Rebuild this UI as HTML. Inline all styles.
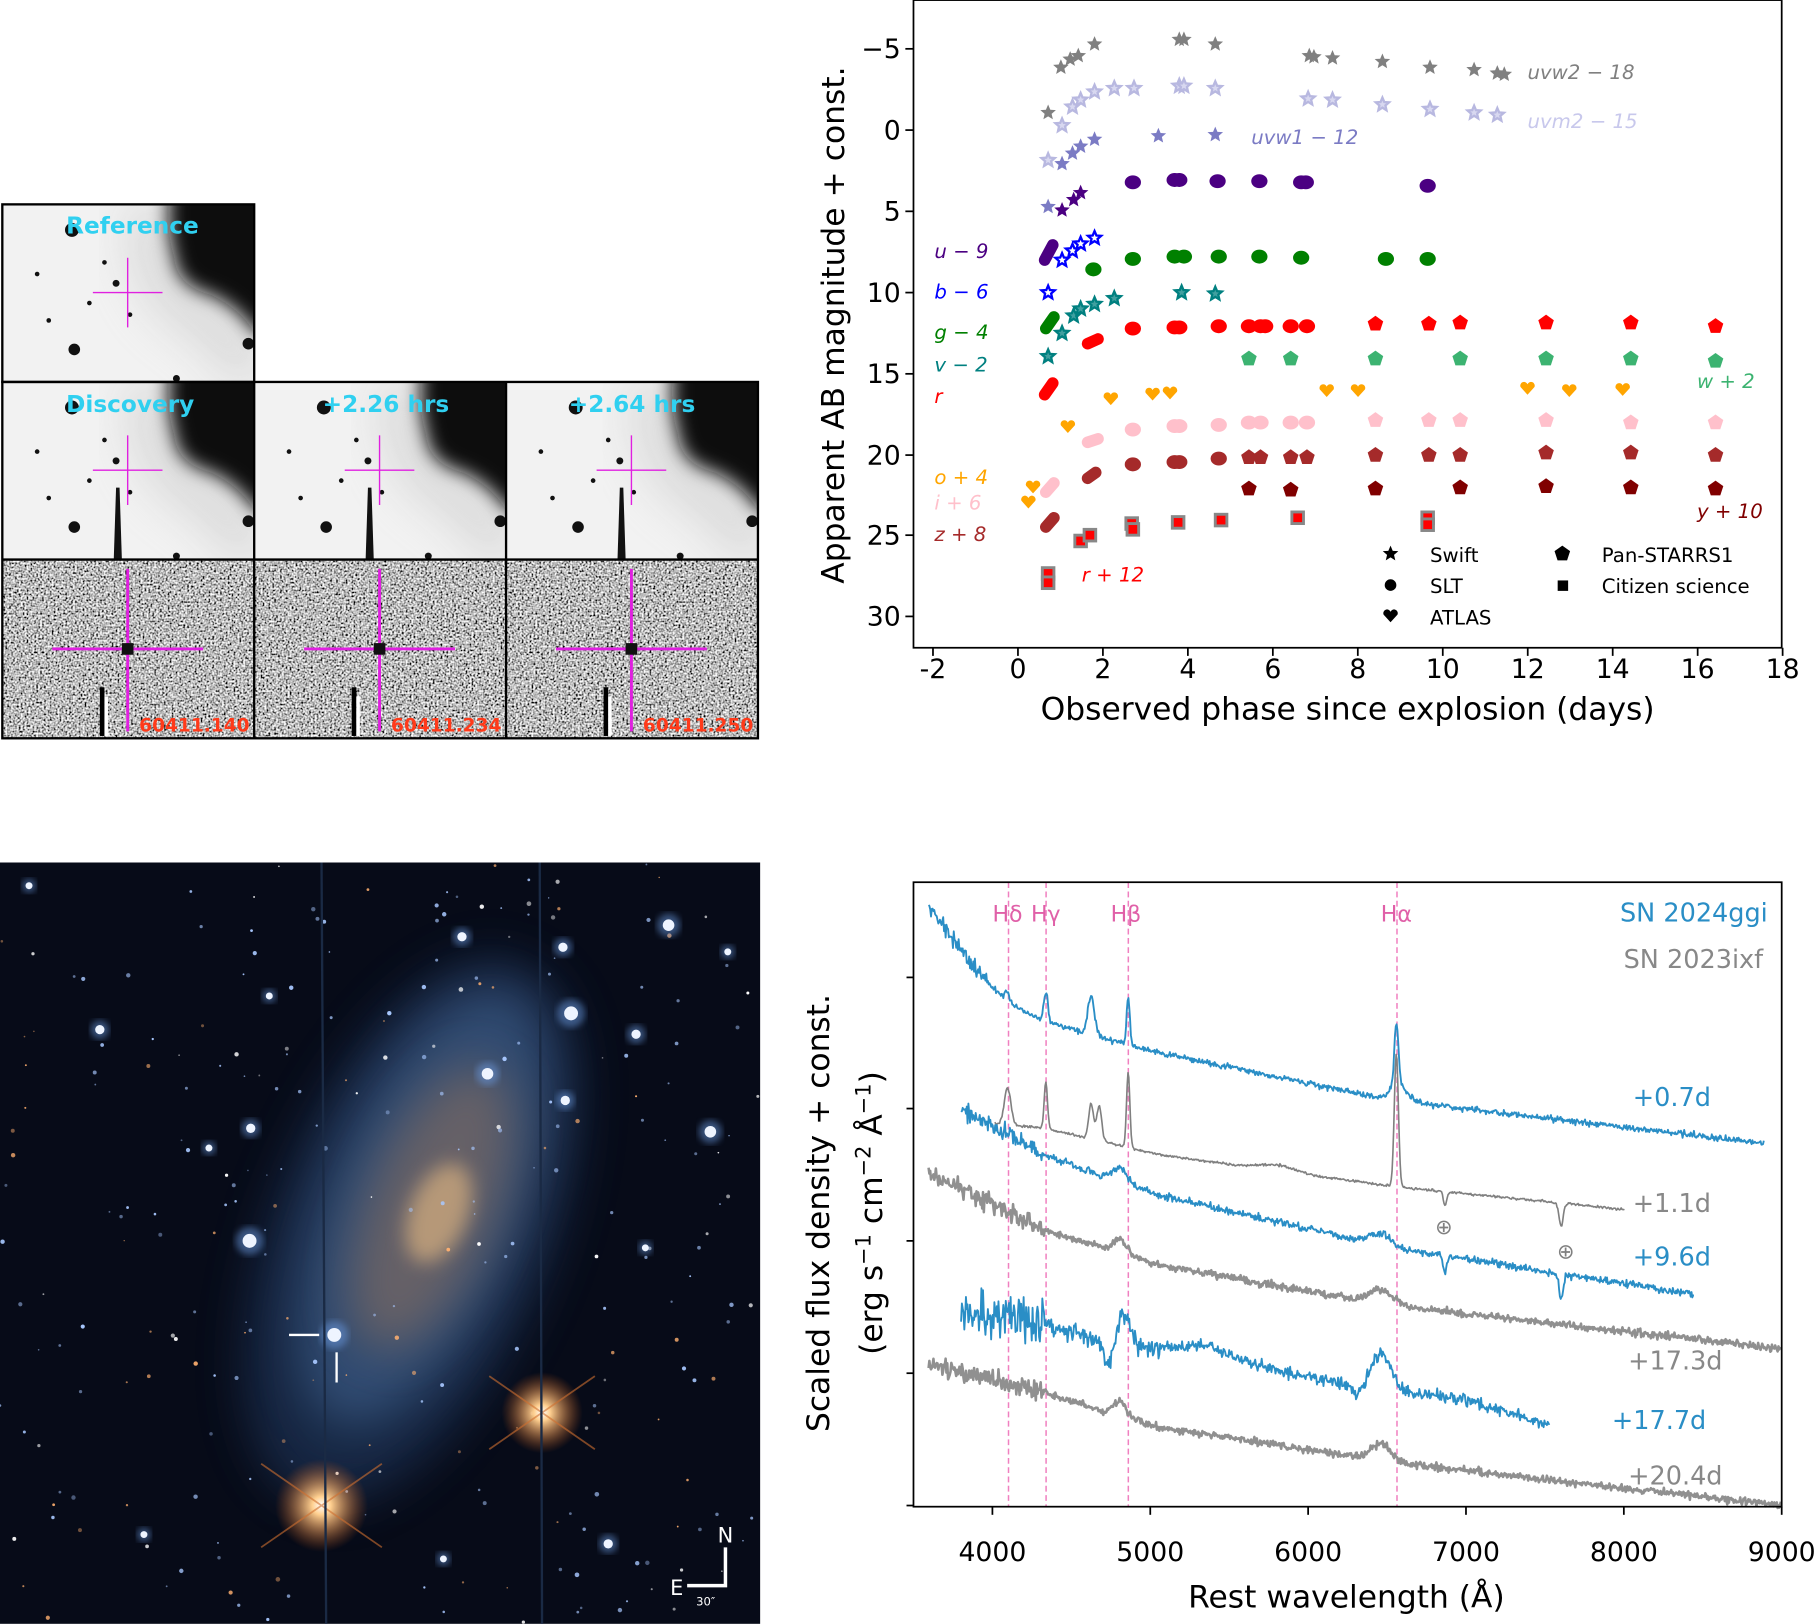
<!DOCTYPE html>
<html><head><meta charset="utf-8"><style>
html,body{margin:0;padding:0;background:#fff;}
svg{display:block;}
text{font-family:"DejaVu Sans","Liberation Sans",sans-serif;}
</style></head><body>
<svg id="s" width="1820" height="1624" viewBox="0 0 1568 1399" xmlns="http://www.w3.org/2000/svg">
<defs>
<filter id="noise2" x="0" y="0" width="100%" height="100%">
<feTurbulence type="fractalNoise" baseFrequency="0.6" numOctaves="1" seed="7"/>
<feColorMatrix type="saturate" values="0"/>
<feComponentTransfer><feFuncR type="linear" slope="3.2" intercept="-1.1"/><feFuncG type="linear" slope="3.2" intercept="-1.1"/><feFuncB type="linear" slope="3.2" intercept="-1.1"/><feFuncA type="linear" slope="0" intercept="1"/></feComponentTransfer>
</filter>
<filter id="blur8" x="-50%" y="-50%" width="200%" height="200%"><feGaussianBlur stdDeviation="8"/></filter>
<filter id="blur20" x="-50%" y="-50%" width="200%" height="200%"><feGaussianBlur stdDeviation="20"/></filter>
<filter id="blur3"><feGaussianBlur stdDeviation="3"/></filter>
<radialGradient id="orangeStar" cx="50%" cy="50%" r="50%">
<stop offset="0" stop-color="#fff"/><stop offset="0.2" stop-color="#ffd090"/><stop offset="1" stop-color="#c05010" stop-opacity="0"/>
</radialGradient>
<clipPath id="galclip"><rect x="0" y="743" width="655" height="656"/></clipPath>
<clipPath id="c0"><rect x="2" y="176" width="217" height="153"/></clipPath>
<clipPath id="c1"><rect x="2" y="329" width="217" height="153"/></clipPath>
<clipPath id="c2"><rect x="219" y="329" width="217" height="153"/></clipPath>
<clipPath id="c3"><rect x="436" y="329" width="217" height="153"/></clipPath>
</defs>
<g id="root"></g>
</svg>
<script>
(function(){
var g=document.getElementById('root');var out=[];
function A(s){out.push(s);}
var seed=12345;function rnd(){seed=(seed*16807)%2147483647;return seed/2147483647;}
function gauss(){return (rnd()+rnd()+rnd()+rnd()-2)/1.15;}

function blob(x,y,cid){
 A('<g clip-path="url(#'+cid+')">');
 A('<rect x="'+x+'" y="'+y+'" width="217" height="153" fill="#f2f2f2"/>');
 A('<path d="M'+(x+130)+' '+y+' Q'+(x+120)+' '+(y+60)+' '+(x+160)+' '+(y+90)+' Q'+(x+195)+' '+(y+110)+' '+(x+217)+' '+(y+150)+'" stroke="#bbb" stroke-width="35" fill="none" opacity="0.5" filter="url(#blur20)"/>');
 A('<path d="M'+(x+145)+' '+(y-20)+' L'+(x+240)+' '+(y-20)+' L'+(x+240)+' '+(y+115)+' L'+(x+217)+' '+(y+110)+' Q'+(x+205)+' '+(y+90)+' '+(x+180)+' '+(y+78)+' Q'+(x+150)+' '+(y+70)+' '+(x+148)+' '+(y+45)+' Q'+(x+140)+' '+(y+20)+' '+(x+145)+' '+(y-20)+'Z" fill="#111" filter="url(#blur8)"/>');
 var dots=[[60,22,6],[62,125,5],[98,68,3],[75,85,2],[30,60,2],[150,150,3],[212,120,5],[40,100,2],[88,50,2],[110,95,2]];
 dots.forEach(function(d){A('<circle cx="'+(x+d[0])+'" cy="'+(y+d[1])+'" r="'+d[2]+'" fill="#111"/>');});
 A('</g>');
}
blob(2,176,'c0');
A('<line x1="110" y1="222" x2="110" y2="282" stroke="#e020e0" stroke-width="1.2"/><line x1="80" y1="252" x2="140" y2="252" stroke="#e020e0" stroke-width="1.2"/>');
A('<text x="57" y="201" font-size="20" font-weight="bold" fill="#30d0f0">Reference</text>');
var px=[2,219,436];var lab2=['Discovery','+2.26 hrs','+2.64 hrs'];var lx=[57,278,490];
var mjd=['60411.140','60411.234','60411.250'];
for(var i=0;i<3;i++){
 blob(px[i],329,'c'+(i+1));
 var cx=px[i]+108;
 A('<line x1="'+cx+'" y1="375" x2="'+cx+'" y2="435" stroke="#e020e0" stroke-width="1.2"/><line x1="'+(cx-30)+'" y1="405" x2="'+(cx+30)+'" y2="405" stroke="#e020e0" stroke-width="1.2"/>');
 A('<path d="M'+(px[i]+98)+' 420 L'+(px[i]+101)+' 420 L'+(px[i]+103)+' 482 L'+(px[i]+96)+' 482Z" fill="#111"/>');
 A('<text x="'+lx[i]+'" y="355" font-size="20" font-weight="bold" fill="#30d0f0">'+lab2[i]+'</text>');
 A('<rect x="'+px[i]+'" y="482" width="217" height="154" fill="#888" filter="url(#noise2)"/>');
 A('<line x1="'+cx+'" y1="490" x2="'+cx+'" y2="630" stroke="#e020e0" stroke-width="2.5"/><line x1="'+(cx-65)+'" y1="559" x2="'+(cx+65)+'" y2="559" stroke="#e020e0" stroke-width="2.5"/>');
 A('<rect x="'+(cx-5)+'" y="554" width="10" height="10" fill="#111"/>');
 A('<rect x="'+(px[i]+84)+'" y="592" width="4" height="42" fill="#000"/><rect x="'+(px[i]+88)+'" y="600" width="3" height="34" fill="#fff"/>');
 A('<text x="'+(px[i]+213)+'" y="630" text-anchor="end" font-size="16" font-weight="bold" fill="#ff3a1a">'+mjd[i]+'</text>');
}
A('<g fill="none" stroke="#000" stroke-width="2"><rect x="2" y="176" width="217" height="153"/><rect x="2" y="329" width="651" height="307"/><line x1="219" y1="329" x2="219" y2="636"/><line x1="436" y1="329" x2="436" y2="636"/><line x1="2" y1="482" x2="653" y2="482"/></g>');

function star(x,y,r,fill,stroke){var p=[];for(var k=0;k<10;k++){var a=-Math.PI/2+k*Math.PI/5;var rr=k%2?r*0.45:r;p.push((x+rr*Math.cos(a)).toFixed(1)+','+(y+rr*Math.sin(a)).toFixed(1));}
 return '<polygon points="'+p.join(' ')+'" fill="'+fill+'"'+(stroke?' stroke="'+stroke+'" stroke-width="2"':'')+'/>';}
function pent(x,y,r,fill){var p=[];for(var k=0;k<5;k++){var a=-Math.PI/2+k*2*Math.PI/5;p.push((x+r*Math.cos(a)).toFixed(1)+','+(y+r*Math.sin(a)).toFixed(1));}return '<polygon points="'+p.join(' ')+'" fill="'+fill+'"/>';}
function heart(x,y,r,fill){return '<path d="M'+x+' '+(y+r)+' L'+(x-r)+' '+(y-r*0.1)+' A'+(r*0.5)+' '+(r*0.5)+' 0 0 1 '+x+' '+(y-r*0.5)+' A'+(r*0.5)+' '+(r*0.5)+' 0 0 1 '+(x+r)+' '+(y-r*0.1)+'Z" fill="'+fill+'"/>';}
function dot(x,y,c){return '<ellipse cx="'+x+'" cy="'+y+'" rx="7" ry="6" fill="'+c+'"/>';}
function streak(x1,y1,x2,y2,c){return '<line x1="'+x1+'" y1="'+y1+'" x2="'+x2+'" y2="'+y2+'" stroke="'+c+'" stroke-width="10" stroke-linecap="round"/>';}
function sq(x,y){return '<rect x="'+(x-5)+'" y="'+(y-5)+'" width="10" height="10" fill="#f00" stroke="#888" stroke-width="2.5"/>';}

var uvw2=[[903,97],[914,58],[922,51],[929,48],[943,38],[1016,34],[1020,34],[1047,38],[1128,48],[1132,49],[1148,50],[1191,53],[1232,58],[1270,60],[1290,63],[1296,64]];
uvw2.forEach(function(p){A(star(p[0],p[1],7,'#808080'));});
var uvm2=[[903,138],[915,108],[924,92],[931,86],[943,79],[960,76],[977,76],[1016,74],[1020,74],[1047,76],[1127,85],[1148,86],[1191,90],[1232,94],[1270,97],[1290,99]];
uvm2.forEach(function(p){A(star(p[0],p[1],6,'#d8d8f0','#b8b8e0'));});
var uvw1=[[903,178],[915,141],[924,132],[931,126],[943,120],[998,117],[1047,116]];
uvw1.forEach(function(p){A(star(p[0],p[1],7,'#7b7bc4'));});
[[915,181],[925,172],[931,166]].forEach(function(p){A(star(p[0],p[1],7,'#4b0082'));});
A(streak(900,224,907,211,'#4b0082'));
[[976,157],[1012,155],[1016,155],[1049,156],[1085,156],[1121,157],[1125,157],[1230,160]].forEach(function(p){A(dot(p[0],p[1],'#4b0082'));});
[[903,252],[915,224],[924,216],[931,210],[943,205]].forEach(function(p){A(star(p[0],p[1],6,'#fff','#0000ff'));});
A(streak(901,283,908,273,'#008000'));
[[942,232],[976,223],[1012,221],[1020,221],[1050,221],[1085,221],[1121,222],[1194,223],[1230,223]].forEach(function(p){A(dot(p[0],p[1],'#008000'));});
[[903,307],[915,287],[925,272],[931,266],[943,262],[960,257],[1018,252],[1047,253]].forEach(function(p){A(star(p[0],p[1],6,'#40a0a0','#008080'));});
A(streak(900,340,907,330,'#ff0000'));A(streak(937,296,946,292,'#ff0000'));
[[976,283],[1012,282],[1016,282],[1050,281],[1076,281],[1086,281],[1090,281],[1112,281],[1126,281]].forEach(function(p){A(dot(p[0],p[1],'#ff0000'));});
[[1185,279],[1231,279],[1258,278],[1332,278],[1405,278],[1478,281]].forEach(function(p){A(pent(p[0],p[1],7,'#ff0000'));});
[[1076,309],[1112,309],[1185,309],[1258,309],[1332,309],[1405,309],[1478,311]].forEach(function(p){A(pent(p[0],p[1],7,'#3cb371'));});
[[886,432],[890,419],[920,367],[957,343],[993,339],[1008,338],[1143,336],[1170,336],[1316,334],[1352,336],[1398,335]].forEach(function(p){A(heart(p[0],p[1],6,'#ffa500'));});
A(streak(901,424,908,416,'#ffc0cb'));A(streak(937,381,946,378,'#ffc0cb'));
[[976,370],[1012,367],[1016,367],[1050,366],[1076,364],[1086,364],[1112,364],[1126,364],[1185,362],[1231,362],[1258,362],[1332,362],[1405,364],[1478,364]].forEach(function(p){A(p[0]>1150?pent(p[0],p[1],7,'#ffc0cb'):dot(p[0],p[1],'#ffc0cb'));});
A(streak(901,454,908,446,'#a52a2a'));A(streak(937,412,944,407,'#a52a2a'));
[[976,400],[1012,398],[1016,398],[1050,395],[1076,394],[1086,394],[1112,394],[1126,394],[1185,392],[1231,392],[1258,392],[1332,390],[1405,390],[1478,392]].forEach(function(p){A(p[0]>1070?pent(p[0],p[1],7,'#a52a2a'):dot(p[0],p[1],'#a52a2a'));});
[[1076,421],[1112,422],[1185,421],[1258,420],[1332,419],[1405,420],[1478,421]].forEach(function(p){A(pent(p[0],p[1],7,'#800000'));});
[[903,494],[903,502],[931,466],[939,461],[975,451],[976,456],[1015,450],[1052,448],[1118,446],[1230,446],[1230,452]].forEach(function(p){A(sq(p[0],p[1]));});

function lab(x,y,t,c,anchor){A('<text x="'+x+'" y="'+y+'" font-size="17" font-style="italic" fill="'+c+'"'+(anchor?' text-anchor="'+anchor+'"':'')+'>'+t+'</text>');}
lab(805,222,'u − 9','#4b0082');lab(805,257,'b − 6','#0000ff');lab(805,292,'g − 4','#008000');lab(805,320,'v − 2','#008080');
lab(805,347,'r','#ff0000');lab(805,417,'o + 4','#ffa500');lab(805,439,'i + 6','#ffc0cb');lab(805,466,'z + 8','#a52a2a');
lab(932,501,'r + 12','#ff0000');lab(1078,124,'uvw1 − 12','#7b7bc4');lab(1316,68,'uvw2 − 18','#808080');lab(1316,110,'uvm2 − 15','#c8c8ec');
lab(1462,334,'w + 2','#3cb371');lab(1462,446,'y + 10','#800000');
A(star(1198,477,7,'#000'));A('<circle cx="1198" cy="504" r="5" fill="#000"/>');A(heart(1198,530,6,'#000'));A(pent(1346,477,7,'#000'));A('<rect x="1342" y="500" width="9" height="9" fill="#000"/>');
A('<g font-size="17" fill="#000"><text x="1232" y="484">Swift</text><text x="1232" y="511">SLT</text><text x="1232" y="538">ATLAS</text><text x="1380" y="484">Pan-STARRS1</text><text x="1380" y="511">Citizen science</text></g>');
A('<rect x="787" y="0" width="748" height="558" fill="none" stroke="#000" stroke-width="1.5"/>');
var yt=[[-5,42],[0,112],[5,182],[10,252],[15,322],[20,392],[25,461],[30,531]];
yt.forEach(function(t){A('<line x1="780" y1="'+t[1]+'" x2="787" y2="'+t[1]+'" stroke="#000" stroke-width="1.5"/><text x="776" y="'+(t[1]+8)+'" text-anchor="end" font-size="23">'+(t[0]<0?'−5':t[0])+'</text>');});
for(var d=-2;d<=18;d+=2){var xx=877+d*36.6;A('<line x1="'+xx+'" y1="558" x2="'+xx+'" y2="565" stroke="#000" stroke-width="1.5"/><text x="'+xx+'" y="584" text-anchor="middle" font-size="23">'+(d<0?'-2':d)+'</text>');}
A('<text x="1161" y="620" text-anchor="middle" font-size="27">Observed phase since explosion (days)</text>');
A('<text transform="translate(727,280) rotate(-90)" text-anchor="middle" font-size="27">Apparent AB magnitude + const.</text>');

A('<g clip-path="url(#galclip)"><rect x="0" y="743" width="655" height="656" fill="#070b18"/>');
A('<ellipse cx="355" cy="1060" rx="120" ry="250" transform="rotate(22 355 1060)" fill="#2c4a78" opacity="0.45" filter="url(#blur20)"/>');
A('<ellipse cx="365" cy="1040" rx="85" ry="200" transform="rotate(22 365 1040)" fill="#4c70a0" opacity="0.5" filter="url(#blur20)"/>');
A('<ellipse cx="372" cy="1040" rx="55" ry="130" transform="rotate(22 372 1040)" fill="#8a7060" opacity="0.6" filter="url(#blur20)"/>');
A('<ellipse cx="378" cy="1045" rx="25" ry="45" transform="rotate(22 378 1045)" fill="#d8b080" opacity="0.7" filter="url(#blur8)"/>');
for(var k=0;k<260;k++){var sx=rnd()*655,sy=743+rnd()*656,rr=0.6+rnd()*1.4;var c=rnd()<0.6?'#a8c8ff':(rnd()<0.5?'#ffb070':'#ffffff');A('<circle cx="'+sx.toFixed(1)+'" cy="'+sy.toFixed(1)+'" r="'+rr.toFixed(1)+'" fill="'+c+'" opacity="'+(0.4+rnd()*0.6).toFixed(2)+'"/>');}
var bs=[[492,873,6],[576,797,5],[485,816,4],[215,1069,6],[288,1150,6],[86,887,4],[612,975,5],[420,925,5],[487,948,4],[627,820,3],[216,972,4],[548,891,4],[556,1075,3],[180,989,3],[25,763,3],[398,807,4],[524,1330,4],[382,1343,3],[124,1322,3],[232,858,3]];
bs.forEach(function(b){A('<circle cx="'+b[0]+'" cy="'+b[1]+'" r="'+(b[2]*2)+'" fill="#6a9ae0" opacity="0.5" filter="url(#blur3)"/><circle cx="'+b[0]+'" cy="'+b[1]+'" r="'+b[2]+'" fill="#eef4ff"/>');});
[[467,1217,35],[277,1297,40]].forEach(function(b){A('<circle cx="'+b[0]+'" cy="'+b[1]+'" r="'+b[2]+'" fill="url(#orangeStar)"/><g stroke="#d07030" stroke-width="1.5" opacity="0.6"><line x1="'+(b[0]-b[2]*1.3)+'" y1="'+(b[1]-b[2]*0.9)+'" x2="'+(b[0]+b[2]*1.3)+'" y2="'+(b[1]+b[2]*0.9)+'"/><line x1="'+(b[0]-b[2]*1.3)+'" y1="'+(b[1]+b[2]*0.9)+'" x2="'+(b[0]+b[2]*1.3)+'" y2="'+(b[1]-b[2]*0.9)+'"/></g>');});
A('<line x1="277" y1="743" x2="281" y2="1399" stroke="#1a2a44" stroke-width="2"/><line x1="465" y1="743" x2="467" y2="1399" stroke="#1a2a44" stroke-width="2"/>');
A('<line x1="249" y1="1150" x2="275" y2="1150" stroke="#fff" stroke-width="2"/><line x1="290" y1="1165" x2="290" y2="1191" stroke="#fff" stroke-width="2"/>');
A('<path d="M592 1366 L625 1366 L625 1333" stroke="#fff" stroke-width="3" fill="none"/><text x="625" y="1329" text-anchor="middle" font-size="18" fill="#fff">N</text><text x="583" y="1374" text-anchor="middle" font-size="18" fill="#fff">E</text><text x="608" y="1383" text-anchor="middle" font-size="10" fill="#fff" font-family="Liberation Serif">30″</text>');
A('</g>');

function X(w){return 787+(w-3500)*0.136;}
[4102,4340,4861,6563].forEach(function(w){A('<line x1="'+X(w)+'" y1="760" x2="'+X(w)+'" y2="1298" stroke="#f080c0" stroke-width="1.3" stroke-dasharray="5,3"/>');});
A('<g font-size="19" fill="#e060a8" text-anchor="middle"><text x="868" y="794">Hδ</text><text x="901" y="794">Hγ</text><text x="970" y="794">Hβ</text><text x="1203" y="794">Hα</text></g>');
function interp(pts,x){for(var i=0;i<pts.length-1;i++){if(x<=pts[i+1][0]){var t=(x-pts[i][0])/(pts[i+1][0]-pts[i][0]);return pts[i][1]+t*(pts[i+1][1]-pts[i][1]);}}return pts[pts.length-1][1];}
function spec(x0,x1,cont,feats,noise,col,sw){var p=[];for(var x=x0;x<=x1;x+=0.7){var y=interp(cont,x);feats.forEach(function(f){y-=f[1]*Math.exp(-Math.pow((x-f[0])/f[2],2));});var n=typeof noise==='function'?noise(x):noise;y+=gauss()*n;p.push(x.toFixed(1)+','+y.toFixed(1));}
 A('<polyline points="'+p.join(' ')+'" fill="none" stroke="'+col+'" stroke-width="'+(sw||1.6)+'" stroke-linejoin="round"/>');}
var B='#2a8ec6',G='#909090';
spec(800,1520,[[800,780],[815,800],[840,835],[870,865],[900,880],[990,905],[1200,948],[1520,985]],[[868,10,3],[901,25,2.5],[940,33,4],[972,40,2],[1203,52,2.5],[1205,15,10]],function(x){return x<850?7:2.5;},B);
spec(857,1400,[[857,968],[900,972],[1000,995],[1200,1022],[1400,1042]],[[868,32,4],[901,40,2],[940,30,3],[947,30,3],[972,65,2],[1203,115,2.5],[1245,-12,2],[1345,-20,2.5],[1100,5,20]],1,'#808080',1.4);
spec(828,1460,[[828,955],[900,995],[1000,1030],[1200,1075],[1460,1115]],[[965,12,8],[1190,10,12],[1245,-15,2],[1345,-22,2.5]],function(x){return x<900?7:3;},B);
spec(800,1535,[[800,1010],[900,1060],[1000,1090],[1200,1125],[1535,1162]],[[965,12,8],[1190,12,15]],function(x){return x<900?8:3;},G,2.2);
spec(828,1335,[[828,1130],[900,1140],[960,1160],[1000,1160],[1100,1180],[1170,1195],[1260,1205],[1335,1228]],[[968,28,8],[955,-18,5],[1190,30,12],[1170,-8,5],[1040,8,25]],function(x){return x<900?18:(x<1000?8:5);},B);
spec(800,1535,[[800,1175],[900,1200],[1000,1230],[1200,1260],[1535,1297]],[[965,12,8],[1190,15,12]],function(x){return x<900?8:3;},G,2.2);
A('<text x="1244" y="1063" font-size="18" fill="#808080" text-anchor="middle">⊕</text><text x="1349" y="1084" font-size="18" fill="#808080" text-anchor="middle">⊕</text>');
A('<g font-size="22"><text x="1523" y="794" text-anchor="end" fill="'+B+'">SN 2024ggi</text><text x="1519" y="834" text-anchor="end" fill="#888">SN 2023ixf</text>');
A('<text x="1474" y="953" text-anchor="end" fill="'+B+'">+0.7d</text><text x="1474" y="1044" text-anchor="end" fill="#888">+1.1d</text><text x="1474" y="1090" text-anchor="end" fill="'+B+'">+9.6d</text><text x="1484" y="1180" text-anchor="end" fill="#888">+17.3d</text><text x="1470" y="1231" text-anchor="end" fill="'+B+'">+17.7d</text><text x="1484" y="1279" text-anchor="end" fill="#888">+20.4d</text></g>');
A('<rect x="787" y="760" width="748" height="538" fill="none" stroke="#000" stroke-width="1.5"/>');
[842,955,1069,1183,1297].forEach(function(y){A('<line x1="781" y1="'+y+'" x2="787" y2="'+y+'" stroke="#000" stroke-width="1.5"/>');});
for(var w=4000;w<=9000;w+=1000){A('<line x1="'+X(w)+'" y1="1298" x2="'+X(w)+'" y2="1305" stroke="#000" stroke-width="1.5"/><text x="'+X(w)+'" y="1345" text-anchor="middle" font-size="23">'+w+'</text>');}
A('<text x="1160" y="1385" text-anchor="middle" font-size="27">Rest wavelength (Å)</text>');
A('<text transform="translate(714,1045) rotate(-90)" text-anchor="middle" font-size="27">Scaled flux density + const.</text>');
A('<text transform="translate(760,1045) rotate(-90)" text-anchor="middle" font-size="27">(erg s<tspan dy="-10" font-size="18">−1</tspan><tspan dy="10"> cm</tspan><tspan dy="-10" font-size="18">−2</tspan><tspan dy="10"> Å</tspan><tspan dy="-10" font-size="18">−1</tspan><tspan dy="10">)</tspan></text>');
g.innerHTML=out.join('');
})();
</script>
</body></html>
